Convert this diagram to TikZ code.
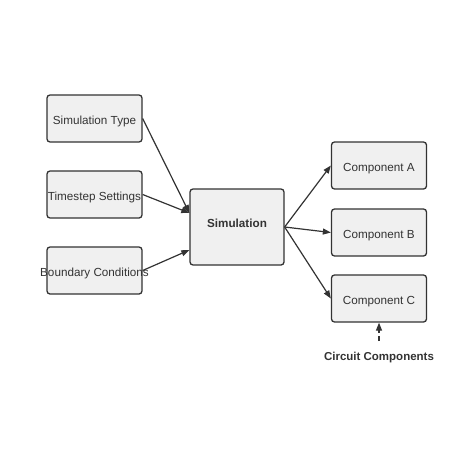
\documentclass[tikz,border=0pt]{standalone}
\usepackage{fontspec}
\setmainfont{Liberation Sans}
\usetikzlibrary{arrows.meta}
\definecolor{ink}{HTML}{333333}
\definecolor{boxfill}{HTML}{F0F0F0}
\begin{document}
\begin{tikzpicture}[x=1pt,y=-1pt,
  box/.style={draw=ink, fill=boxfill, line width=1.3pt, rounded corners=3pt,
    minimum width=95pt, minimum height=47pt, inner sep=0pt, text=ink,
    text height=11pt, text depth=0pt,
    font=\fontsize{11.7}{13}\selectfont},
  bigbox/.style={box, minimum width=94pt, minimum height=76pt,
    text height=5pt, text depth=5pt, font=\fontsize{11.7}{13}\selectfont\bfseries},
  conn/.style={draw=ink, line width=1.2pt, -{Triangle[length=8pt,width=6pt]}}]
\useasboundingbox (0,0) rectangle (474,474);
\node[box] (st) at (94.5,118.5) {Simulation Type};
\node[box] (ts) at (94.5,194.5) {Timestep Settings};
\node[box] (bc) at (94.5,270.5) {\makebox[0pt]{Boundary Conditions}};
\node[bigbox] (sim) at (237,227) {Simulation};
\node[box] (ca) at (379,165.5) {Component A};
\node[box] (cb) at (379,232.5) {Component B};
\node[box] (cc) at (379,298.5) {Component C};
\node[text=ink, font=\fontsize{11.5}{13}\selectfont\bfseries] (lbl) at (379,358) {Circuit Components};
\draw[conn] (st.east) -- ([yshift=14pt]sim.west);
\draw[conn] (ts.east) -- ([yshift=14pt]sim.west);
\draw[conn] (bc.east) -- ([yshift=-23pt]sim.west);
\draw[conn] (sim.east) -- (ca.west);
\draw[conn] (sim.east) -- (cb.west);
\draw[conn] (sim.east) -- (cc.west);
\draw[conn, dash pattern=on 5pt off 3pt] ([yshift=8pt]lbl.north) -- (cc.south);
\end{tikzpicture}
\end{document}
